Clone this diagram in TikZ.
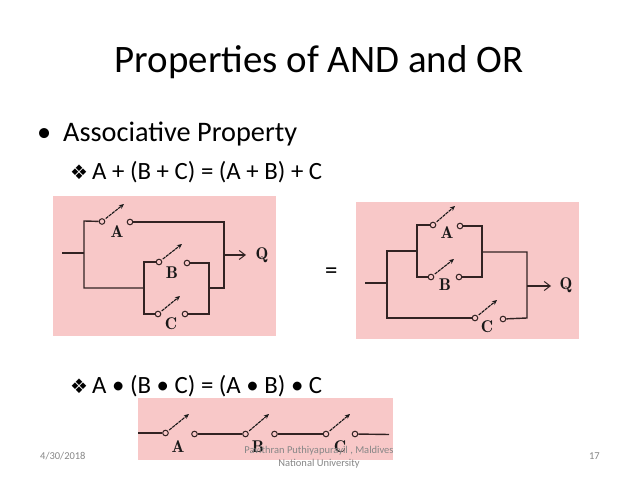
\documentclass[tikz,border=0pt]{standalone}
\usepackage{fontspec}
\setmainfont{Carlito}
\newfontfamily\dingfont{DejaVu Sans}
\usetikzlibrary{arrows.meta}
\definecolor{panelpink}{RGB}{248,200,200}
\definecolor{wirecol}{RGB}{50,35,35}
\definecolor{footgrey}{RGB}{135,135,135}
\tikzset{
  panel/.style={fill=panelpink,draw=none},
  wire/.style={draw=wirecol,line width=1.4pt},
  contact/.style={circle,draw=wirecol,fill=panelpink,line width=1pt,minimum size=5.6pt,inner sep=0pt},
  armline/.style={draw=black!90,line width=1.1pt,dash pattern=on 3.2pt off 0.8pt,-{Stealth[length=5pt,width=4.5pt]},shorten <=1.5pt},
  outarrow/.style={wire,-{Straight Barb[length=6pt,width=9pt,line width=1pt]}},
  swlabel/.style={font=\fontfamily{lmr}\bfseries\fontsize{17}{17}\selectfont,inner sep=0pt,text=black!90},
  title/.style={font=\fontsize{38.9}{40}\selectfont,anchor=base,inner sep=0pt},
  lvlone/.style={font=\fontsize{28.3}{29}\selectfont,anchor=base west,inner sep=0pt},
  lvltwo/.style={font=\fontsize{24.8}{26}\selectfont,anchor=base west,inner sep=0pt},
  dingb/.style={font=\dingfont\fontsize{20}{21}\selectfont,anchor=base west,inner sep=0pt},
  foot/.style={font=\fontsize{10.5}{12.8}\selectfont,text=footgrey,inner sep=0pt},
}
\begin{document}
\begin{tikzpicture}[x=1pt,y=-1pt]
\useasboundingbox (0,0) rectangle (638,478);
\fill[white] (0,0) rectangle (638,478);

\node[title] (ttl) at (319,73) {Properties of AND and OR};
\node[lvlone] (bul) at (37,142) {•};
\node[lvlone] (assoc) at (63,142) {Associative Property};
\node[dingb] (dia1) at (70,180) {❖};
\node[lvltwo] (eq1) at (92,180) {A + (B + C) = (A + B) + C};
\node[dingb] (dia2) at (70,394) {❖};
\node[lvltwo] (eq2) at (92,394) {A • (B • C) = (A • B) • C};
\node[lvltwo] (eqs) at (325,279) {=};

% ---------- left panel
\fill[panel] (53,196) rectangle (276,336);
\coordinate (l0) at (62,253);
\coordinate (lj) at (84,253);
\coordinate (lt) at (84,221);
\coordinate (lb) at (84,288);
\coordinate (lp) at (144,288);
\coordinate (lpt) at (144,262);
\coordinate (lpb) at (144,314);
\coordinate (rt) at (224,222);
\coordinate (rb) at (224,288);
\coordinate (rm) at (224,255);
\coordinate (rq) at (246,255);
\coordinate (qp) at (209,288);
\coordinate (qt) at (209,263);
\coordinate (qb) at (209,314);
\node[contact] (a1) at (102,221.5) {};
\node[contact] (a2) at (130,222) {};
\node[contact] (b1) at (159,262) {};
\node[contact] (b2) at (187,263) {};
\node[contact] (c1) at (158,314) {};
\node[contact] (c2) at (185,314) {};
\coordinate (aa) at (124,204);
\coordinate (ab) at (182,244);
\coordinate (ac) at (180,296);
\draw[wire] (l0) -- (lj);
\draw[wire] (a1) -- (lt) -- (lb) -- (lp);
\draw[wire] (b1) -- (lpt) -- (lpb) -- (c1);
\draw[wire] (a2) -- (rt) -- (rb) -- (qp);
\draw[wire] (b2) -- (qt) -- (qb) -- (c2);
\draw[outarrow] (rm) -- (rq);
\draw[armline] (a1) -- (aa);
\draw[armline] (b1) -- (ab);
\draw[armline] (c1) -- (ac);
\node[swlabel] (la) at (117,232) {A};
\node[swlabel] (lb2) at (172,273) {B};
\node[swlabel] (lc) at (171,324) {C};
\node[swlabel] (lq) at (262,255) {Q};

% ---------- right panel
\fill[panel] (356,202) rectangle (579,339);
\coordinate (m0) at (365,283);
\coordinate (mj) at (387,283);
\coordinate (mt) at (387,251);
\coordinate (mb) at (387,318);
\coordinate (mp) at (417,251);
\coordinate (mpt) at (417,225);
\coordinate (mpb) at (417,277);
\coordinate (np) at (482,252);
\coordinate (npt) at (482,226);
\coordinate (npb) at (482,277);
\coordinate (nr) at (527,252);
\coordinate (nb) at (527,318);
\coordinate (nm) at (527,286);
\coordinate (nq) at (551,286);
\node[contact] (d1) at (433,225) {};
\node[contact] (d2) at (460,226) {};
\node[contact] (e1) at (431,277) {};
\node[contact] (e2) at (459,277) {};
\node[contact] (f1) at (475,318) {};
\node[contact] (f2) at (503,319) {};
\coordinate (ad) at (455,206);
\coordinate (ae) at (454,259);
\coordinate (af) at (497,300);
\draw[wire] (m0) -- (mj);
\draw[wire] (mp) -- (mt) -- (mb) -- (f1);
\draw[wire] (d1) -- (mpt) -- (mpb) -- (e1);
\draw[wire] (d2) -- (npt) -- (npb) -- (e2);
\draw[wire] (np) -- (nr) -- (nb) -- (f2);
\draw[outarrow] (nm) -- (nq);
\draw[armline] (d1) -- (ad);
\draw[armline] (e1) -- (ae);
\draw[armline] (f1) -- (af);
\node[swlabel] (ma) at (447,233) {A};
\node[swlabel] (mb2) at (445,285) {B};
\node[swlabel] (mc) at (487,327) {C};
\node[swlabel] (mq) at (566,285) {Q};

% ---------- bottom panel
\fill[panel] (138,398) rectangle (393,460);
\coordinate (s0) at (138,433);
\coordinate (s1) at (389,434.5);
\node[contact] (g1) at (165.5,433) {};
\node[contact] (g2) at (194.5,434) {};
\node[contact] (h1) at (245.5,434) {};
\node[contact] (h2) at (274.5,434) {};
\node[contact] (i1) at (326,434) {};
\node[contact] (i2) at (355,434) {};
\coordinate (ag) at (189,414);
\coordinate (ah) at (269,414);
\coordinate (ai) at (350,414);
\draw[wire] (s0) -- (g1);
\draw[wire] (g2) -- (h1);
\draw[wire] (h2) -- (i1);
\draw[wire] (i2) -- (s1);
\draw[armline] (g1) -- (ag);
\draw[armline] (h1) -- (ah);
\draw[armline] (i1) -- (ai);
\node[swlabel] (sa) at (178,447) {A};
\node[swlabel] (sb) at (258,447) {B};
\node[swlabel] (sc) at (340,447) {C};

% ---------- footer
\node[foot,anchor=base west] (date) at (40,460) {4/30/2018};
\node[foot,anchor=base east] (pg) at (600,460) {17};
\node[foot,align=center,anchor=center] (auth) at (319,457.5) {Pavithran Puthiyapurayil , Maldives\\National University};
\end{tikzpicture}
\end{document}
